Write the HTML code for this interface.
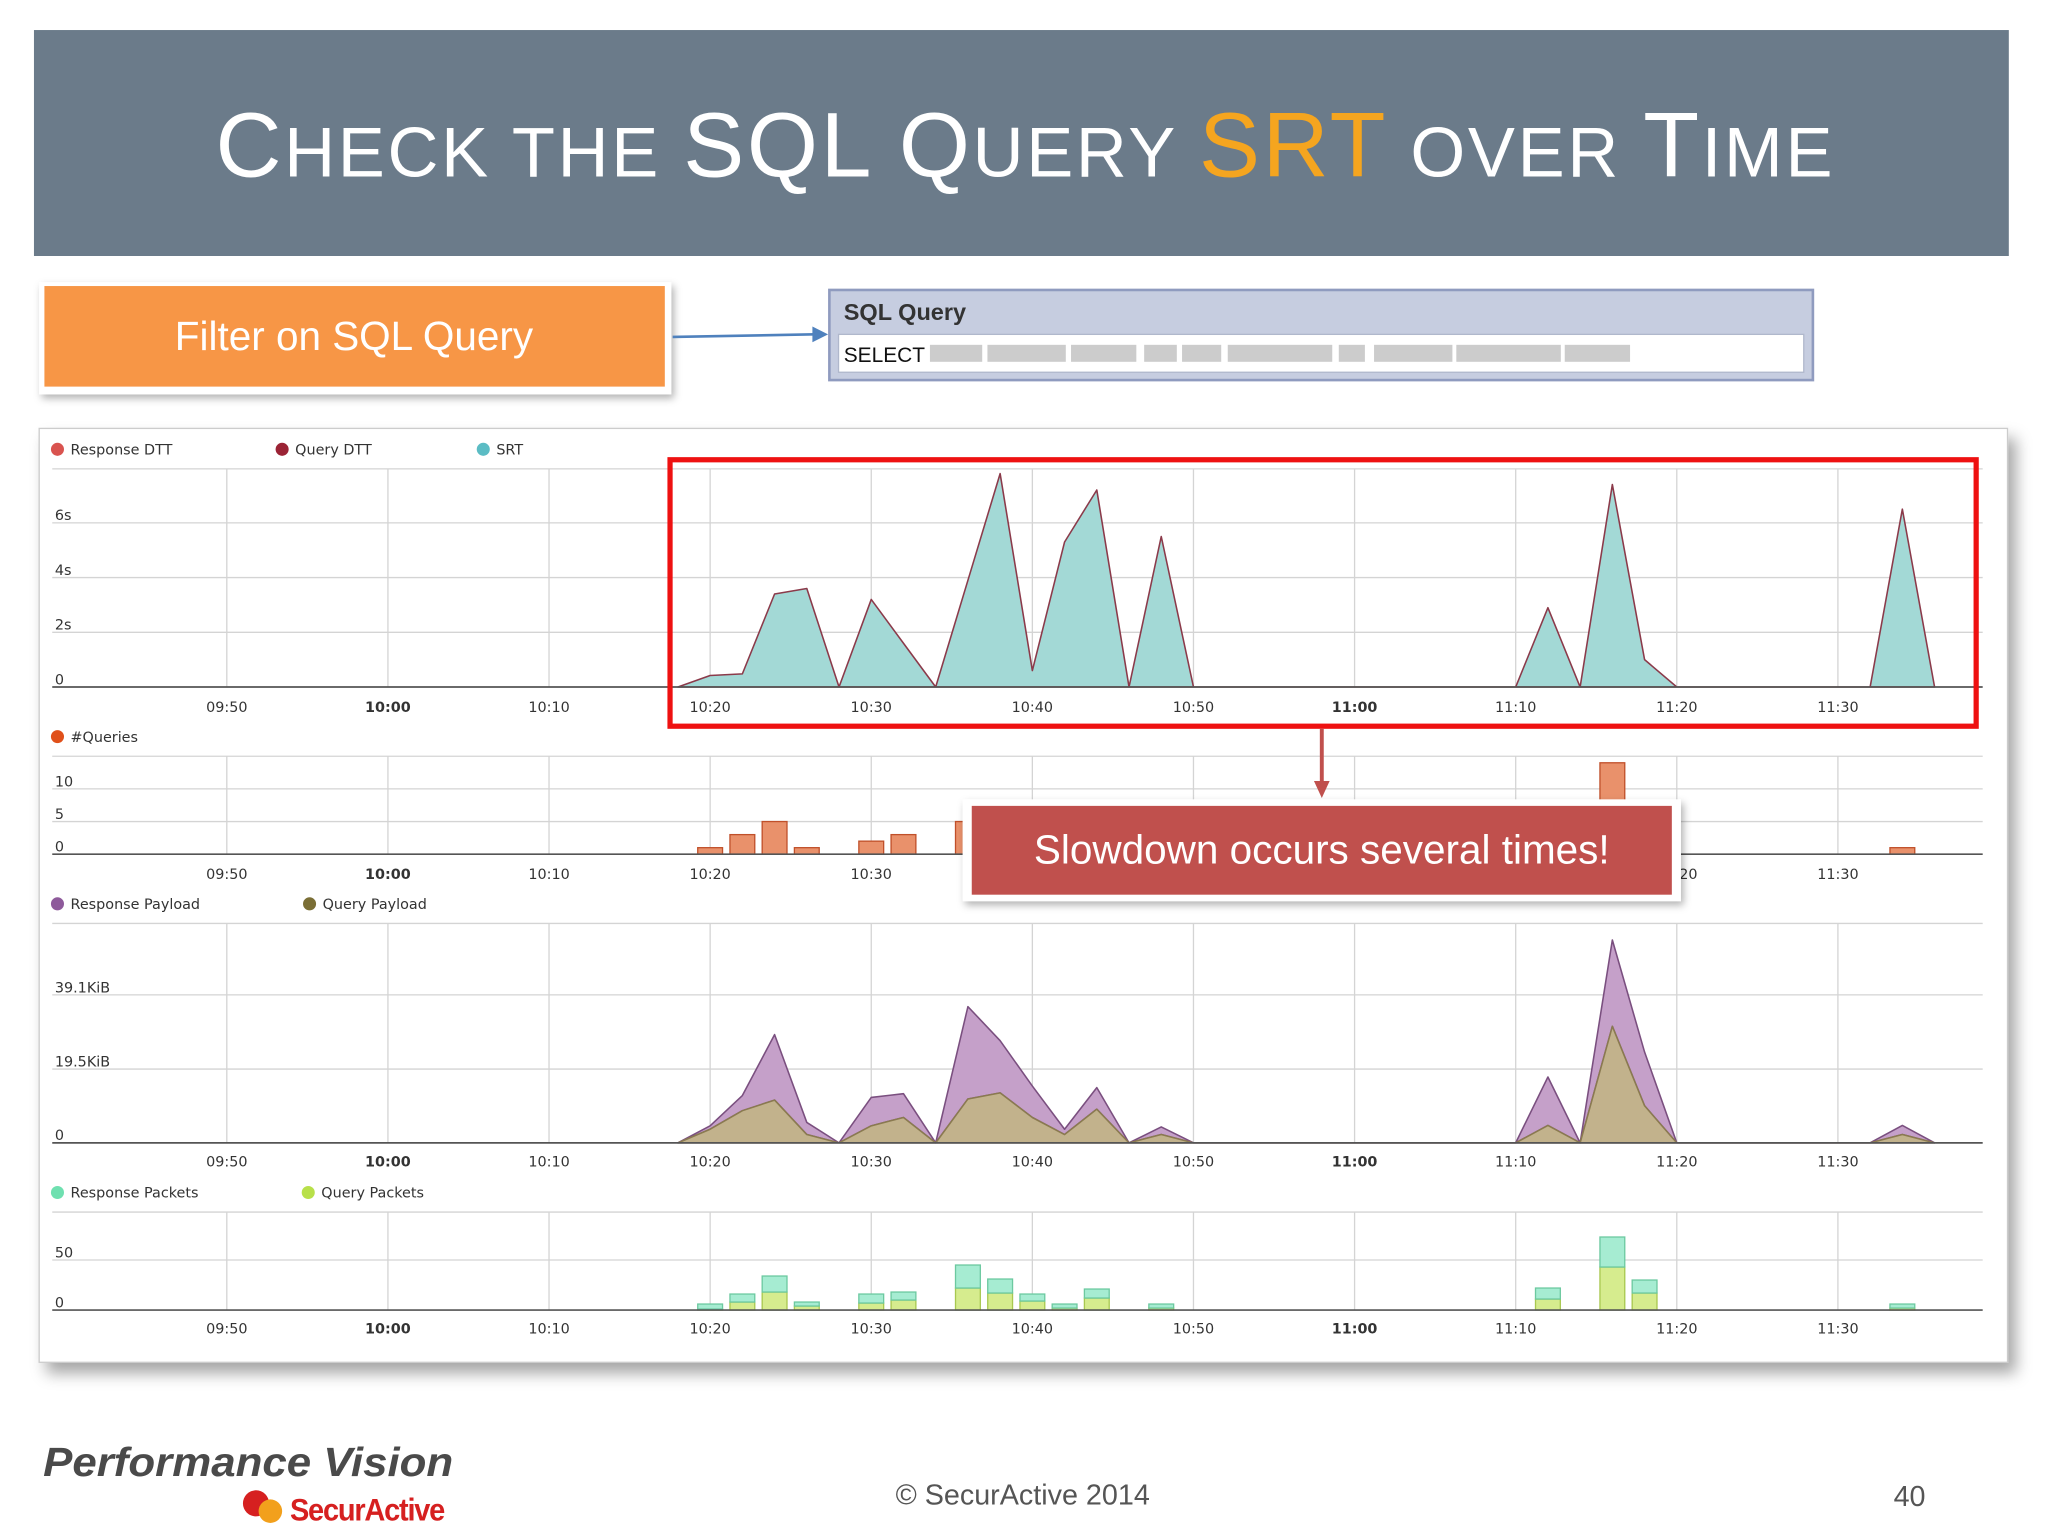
<!DOCTYPE html>
<html><head><meta charset="utf-8"><style>
html,body{margin:0;padding:0;background:#fff;}
svg{display:block;font-family:"Liberation Sans","DejaVu Sans",sans-serif;}
.tk{font-family:"DejaVu Sans",sans-serif;font-size:11px;fill:#333;text-anchor:middle;}
.lg{font-family:"DejaVu Sans",sans-serif;font-size:11px;fill:#333;}
</style></head><body>
<svg id="s" width="2048" height="1536" viewBox="0 0 1568 1176" xmlns="http://www.w3.org/2000/svg">
<defs>
<filter id="sh" x="-5%" y="-5%" width="115%" height="120%"><feDropShadow dx="6" dy="8" stdDeviation="6" flood-color="#000" flood-opacity="0.35"/></filter>
<filter id="sh2" x="-5%" y="-10%" width="110%" height="130%"><feDropShadow dx="2" dy="3" stdDeviation="3" flood-color="#000" flood-opacity="0.3"/></filter>
</defs>
<rect x="26" y="23" width="1512" height="173" fill="#6b7b8a"/>
<text x="165" y="135" fill="#fff" textLength="1238" lengthAdjust="spacing"><tspan font-size="70">C</tspan><tspan font-size="54">HECK THE </tspan><tspan font-size="70">SQL Q</tspan><tspan font-size="54">UERY </tspan><tspan font-size="70" fill="#f5a51f">SRT</tspan><tspan font-size="54"> OVER </tspan><tspan font-size="70">T</tspan><tspan font-size="54">IME</tspan></text>

<rect x="30" y="216" width="484" height="86" fill="#fff" filter="url(#sh2)"/>
<rect x="34" y="219" width="475" height="77" fill="#f79646"/>
<text x="271" y="268" fill="#fff" font-size="31" text-anchor="middle">Filter on SQL Query</text>
<line x1="515" y1="258" x2="624" y2="256" stroke="#4f81bd" stroke-width="2"/>
<polygon points="634,256 622,250 622,262" fill="#4f81bd"/>

<rect x="635" y="222" width="753" height="69" fill="#c6cde0" stroke="#8f9bbf" stroke-width="2"/>
<text x="646" y="245" font-size="18" font-weight="bold" fill="#333">SQL Query</text>
<rect x="642" y="256" width="739" height="29" fill="#fff" stroke="#b0b8cc"/>
<text x="646" y="277" font-size="16" fill="#111">SELECT</text>
<g id="blur"></g>

<rect x="30" y="328" width="1507" height="715" fill="#fff" stroke="#ccc" filter="url(#sh)"/>
<g id="charts"></g>

<rect x="513" y="352" width="1000" height="204" fill="none" stroke="#ee1111" stroke-width="4"/>
<line x1="1012" y1="558" x2="1012" y2="600" stroke="#c0504d" stroke-width="3"/>
<polygon points="1012,611 1006,598 1018,598" fill="#c0504d"/>
<rect x="737" y="612" width="550" height="78" fill="#fff" filter="url(#sh2)"/>
<rect x="744" y="617" width="536" height="68" fill="#c0504d"/>
<text x="1012" y="661" fill="#fff" font-size="31" text-anchor="middle">Slowdown occurs several times!</text>

<text x="33" y="1130" font-size="31" font-weight="bold" font-style="italic" fill="#4a4a4a" textLength="314" lengthAdjust="spacingAndGlyphs">Performance Vision</text>
<circle cx="196" cy="1151" r="10" fill="#d62020"/>
<circle cx="207" cy="1157" r="9" fill="#f2a01c"/>
<text x="222" y="1164" font-size="24" font-weight="bold" fill="#d62020" letter-spacing="-1" textLength="118" lengthAdjust="spacingAndGlyphs">SecurActive</text>
<text x="783" y="1152" font-size="22" fill="#555" text-anchor="middle">© SecurActive 2014</text>
<text x="1462" y="1153" font-size="22" fill="#555" text-anchor="middle">40</text>
</svg>
<script>
// minutes after 10:00 for each sample: 10:18 .. 11:36, step 2
const startMin = 18, stepMin = 2;
const srt = [0,.42,.48,3.4,3.6,0,3.2,1.6,0,3.9,7.8,.6,5.3,7.2,0,5.5,0, 0,0,0,0,0,0,0,0,0,0, 2.9,0,7.4,1.0,0, 0,0,0,0,0,0, 6.5,0];
const queries = [0,1,3,5,1,0,2,3,0,5,4,3,1,3,0,1,0, 0,0,0,0,0,0,0,0,0,0, 3,0,14,4,0, 0,0,0,0,0,0, 1,0];
const queryPayload = [0,3.6,8.5,11.3,2.2,0,4.5,6.7,0,11.6,13.2,6.7,2.2,8.9,0,2.2,0, 0,0,0,0,0,0,0,0,0,0, 4.6,0,30.8,9.8,0, 0,0,0,0,0,0, 2.2,0];
const responsePayload = [0,0.9,4,17.3,3.2,0,7.5,6.3,0,24.4,13.8,8.3,1.4,5.7,0,2,0, 0,0,0,0,0,0,0,0,0,0, 12.8,0,22.8,14.2,0, 0,0,0,0,0,0, 2.4,0];
const queryPackets = [0,1,8,18,4,0,7,10,0,22,17,9,2,12,0,2,0, 0,0,0,0,0,0,0,0,0,0, 11,0,43,17,0, 0,0,0,0,0,0, 2,0];
const responsePackets = [0,5,8,16,4,0,9,8,0,23,14,7,4,9,0,4,0, 0,0,0,0,0,0,0,0,0,0, 11,0,30,13,0, 0,0,0,0,0,0, 4,0];
const tickMins = [-10,0,10,20,30,40,50,60,70,80,90];
const tickLabels = ["09:50","10:00","10:10","10:20","10:30","10:40","10:50","11:00","11:10","11:20","11:30"];
const tickBold = [false,true,false,false,false,false,false,true,false,false,false];

const NS="http://www.w3.org/2000/svg";
const G=document.getElementById('charts');
function mk(tag,attrs,parent){const e=document.createElementNS(NS,tag);for(const k in attrs)e.setAttribute(k,attrs[k]);(parent||G).appendChild(e);return e;}
const X0=40,X1=1518;
function xScale(m){return 297+m*12.335;}
function mAt(i){return startMin+i*stepMin;}

function frame(top,base,labelY,yTicks,yLabs,yS){
  yTicks.forEach((v,i)=>{const y=yS(v);
    const l=mk('line',{x1:X0,x2:X1,y1:y,y2:y,stroke:'#d4d4d4'});
    
    
    const t=mk('text',{x:42,y:y-2,class:'lg'});t.textContent=yLabs[i];
    
    
  });
  const tl=mk('line',{x1:X0,x2:X1,y1:top,y2:top,stroke:'#d4d4d4'});
  
  
  tickMins.forEach((m,i)=>{const x=xScale(m);
    const l=mk('line',{x1:x,x2:x,y1:top,y2:base,stroke:'#d4d4d4'});
    
    
    const t=mk('text',{x:x,y:labelY,class:'tk','font-weight':tickBold[i]?'bold':'normal'});t.textContent=tickLabels[i];
    
    
  });
}
function baseline(base){const l=mk('line',{x1:X0,x2:X1,y1:base,y2:base,stroke:'#555','stroke-width':1.3});
  
  }
function legend(items,y){items.forEach(it=>{
  const c=mk('circle',{cx:it.x,cy:y-4,r:5,fill:it.c});
  
  
  const t=mk('text',{x:it.x+10,y:y,class:'lg'});t.textContent=it.t;
  
  
});}
function area(vals,yS,fill,stroke,name,baseVals){
  let pts=[];
  vals.forEach((v,i)=>{const b=baseVals?baseVals[i]:0;pts.push(xScale(mAt(i))+','+yS(v+b));});
  if(baseVals){for(let i=vals.length-1;i>=0;i--)pts.push(xScale(mAt(i))+','+yS(baseVals[i]));}
  else{pts.push(xScale(mAt(vals.length-1))+','+yS(0));pts.push(xScale(mAt(0))+','+yS(0));}
  const p=mk('polygon',{points:pts.join(' '),fill:fill,stroke:stroke,'stroke-width':1.2,'stroke-linejoin':'round'});
  
  
}
function bars(vals,yS,fill,stroke,name,baseVals){
  vals.forEach((v,i)=>{if(v<=0)return;const b=baseVals?baseVals[i]:0;
    const x=xScale(mAt(i));const y1=yS(v+b),y0=yS(b);
    const r=mk('rect',{x:x-9.5,y:y1,width:19,height:y0-y1,fill:fill,stroke:stroke,'stroke-width':1});
    
    
  });
}
// Chart 1: SRT
{const base=526,pps=20.95;const yS=v=>base-v*pps;
 legend([{x:44,c:'#d9534f',t:'Response DTT'},{x:216,c:'#9b2335',t:'Query DTT'},{x:370,c:'#5bbcc4',t:'SRT'}],348);
 frame(359,base,545,[2,4,6],['2s','4s','6s'],yS);
 const z=mk('text',{x:42,y:base-2,class:'lg'});z.textContent='0';
 
 
 area(srt,yS,'#a3d9d6','#8b3a4a','srt-area');
 baseline(base);}
// Chart 2: queries
{const base=654;const yS=v=>base-v*5;
 legend([{x:44,c:'#e0501a',t:'#Queries'}],568);
 frame(579,base,673,[5,10],['5','10'],yS);
 const z=mk('text',{x:42,y:base-2,class:'lg'});z.textContent='0';
 
 
 bars(queries,yS,'#e9916b','#c0502a','queries-bar');
 baseline(base);}
// Chart 3: payload
{const base=875,pk=56.5/19.5;const yS=v=>base-v*pk;
 legend([{x:44,c:'#8e5a9b',t:'Response Payload'},{x:237,c:'#7a6e35',t:'Query Payload'}],696);
 frame(707,base,893,[19.5,39.1],['19.5KiB','39.1KiB'],yS);
 const z=mk('text',{x:42,y:base-2,class:'lg'});z.textContent='0';
 
 
 area(responsePayload,yS,'#c5a0c9','#7a4f7f','response-payload-area',queryPayload);
 area(queryPayload,yS,'#c2b28c','#8a7a50','query-payload-area');
 baseline(base);}
// Chart 4: packets
{const base=1003,pp=38.3/50;const yS=v=>base-v*pp;
 legend([{x:44,c:'#6fe0b0',t:'Response Packets'},{x:236,c:'#b8e04a',t:'Query Packets'}],917);
 frame(928,base,1021,[50],['50'],yS);
 const z=mk('text',{x:42,y:base-2,class:'lg'});z.textContent='0';
 
 
 bars(queryPackets,yS,'#d6ec8e','#a8c850','query-packets-bar');
 bars(responsePackets,yS,'#a6ecd2','#6cc9a0','response-packets-bar',queryPackets);
 baseline(base);}
// blurred query placeholder
{const B=document.getElementById('blur');const segs=[[712,40],[756,60],[820,50],[876,25],[905,30],[940,80],[1025,20],[1052,60],[1115,80],[1198,50]];
 segs.forEach(s=>{const r=document.createElementNS(NS,'rect');r.setAttribute('x',s[0]);r.setAttribute('y',264);r.setAttribute('width',s[1]);r.setAttribute('height',13);r.setAttribute('fill','#aaa');r.setAttribute('opacity','0.6');B.appendChild(r);});}
</script>
</body></html>
